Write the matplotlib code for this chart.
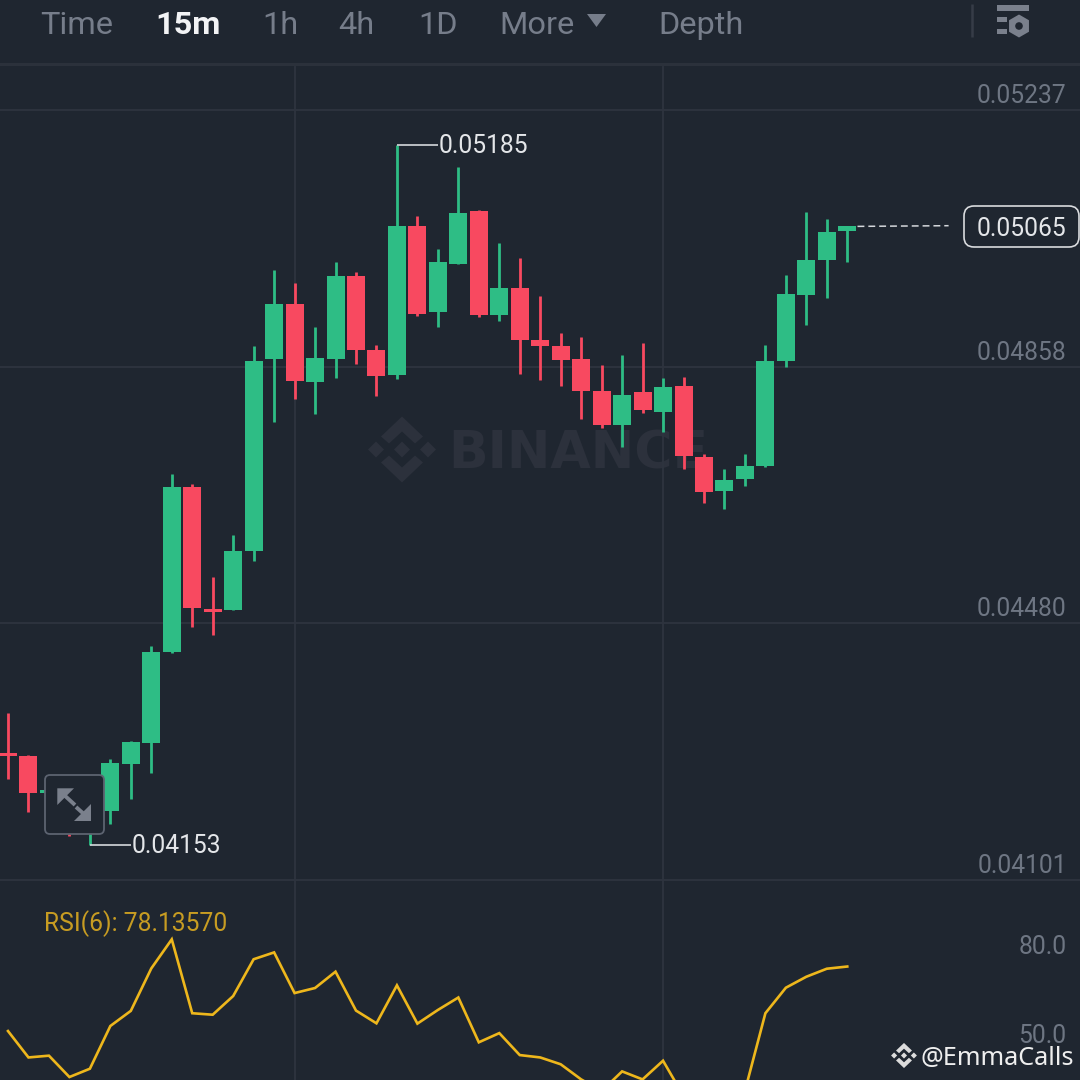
import matplotlib
matplotlib.use("Agg")
import matplotlib.pyplot as plt
from matplotlib.patches import FancyBboxPatch, Polygon, RegularPolygon, Circle

# candles, oldest first
open_p = [0.04288, 0.04284, 0.04230, 0.04226, 0.04178, 0.04203, 0.04272, 0.04303, 0.04437, 0.04681,
          0.04501, 0.04499, 0.04586, 0.04869, 0.04951, 0.04836, 0.04870, 0.04992, 0.04883, 0.04846,
          0.05066, 0.04939, 0.05010, 0.05087, 0.04935, 0.04974, 0.04897, 0.04889, 0.04869, 0.04822,
          0.04772, 0.04820, 0.04791, 0.04829, 0.04725, 0.04675, 0.04692, 0.04712, 0.04866, 0.04964,
          0.05016, 0.05058]
close_p = [0.04284, 0.04230, 0.04234, 0.04178, 0.04203, 0.04274, 0.04305, 0.04437, 0.04681, 0.04502,
           0.04496, 0.04586, 0.04867, 0.04950, 0.04837, 0.04871, 0.04992, 0.04883, 0.04845, 0.05066,
           0.04936, 0.05012, 0.05084, 0.04935, 0.04974, 0.04898, 0.04889, 0.04868, 0.04822, 0.04772,
           0.04817, 0.04794, 0.04828, 0.04726, 0.04673, 0.04691, 0.04712, 0.04866, 0.04965, 0.05016,
           0.05056, 0.05065]
high_p = [0.04348, 0.04285, 0.04240, 0.04232, 0.04210, 0.04279, 0.04306, 0.04446, 0.04700, 0.04685,
          0.04548, 0.04610, 0.04888, 0.05000, 0.04982, 0.04916, 0.05013, 0.04997, 0.04890, 0.05185,
          0.05080, 0.05032, 0.05152, 0.05089, 0.05040, 0.05018, 0.04962, 0.04908, 0.04902, 0.04861,
          0.04876, 0.04893, 0.04842, 0.04843, 0.04729, 0.04707, 0.04730, 0.04890, 0.04994, 0.05086,
          0.05076, 0.05065]
low_p = [0.04250, 0.04202, 0.04225, 0.04166, 0.04153, 0.04184, 0.04220, 0.04259, 0.04436, 0.04474,
         0.04462, 0.04499, 0.04572, 0.04776, 0.04811, 0.04789, 0.04841, 0.04862, 0.04815, 0.04840,
         0.04933, 0.04917, 0.05010, 0.04931, 0.04925, 0.04847, 0.04839, 0.04829, 0.04781, 0.04767,
         0.04740, 0.04790, 0.04761, 0.04707, 0.04657, 0.04648, 0.04682, 0.04710, 0.04858, 0.04920,
         0.04959, 0.05013]
rsi = [56.4, 47.5, 48.1, 40.9, 43.7, 58.1, 63.2, 77.5, 87.3, 62.4,
       61.9, 68.2, 80.6, 82.9, 69.2, 70.9, 76.4, 63.3, 59.0, 71.8,
       58.9, 63.5, 67.7, 52.6, 55.7, 48.3, 47.5, 45.2, 40.1, 36.2,
       42.8, 40.1, 46.4, 34.5, 31.5, 33.2, 36.2, 62.4, 71.0, 74.7,
       77.4, 78.14]

price_ticks = [0.05237, 0.04858, 0.04480, 0.04101]
rsi_ticks = [80.0, 50.0]
grid_candles = [14, 32]
high_idx = 19
low_idx = 4
last_price = 0.05065
header_labels = ["Time", "15m", "1h", "4h", "1D", "More", "Depth"]
header_x = [40, 155, 262, 338, 418, 499, 658]

BG = "#1f2630"
GRID = "#2e343f"
GREEN = "#2ebd85"
RED = "#f84960"
YELLOW = "#eeb71c"
GREY = "#6e7683"
WM = "#2c313c"

plt.rcParams["font.family"] = ["Roboto", "DejaVu Sans"]
fig = plt.figure(figsize=(10.8, 10.8), dpi=100, facecolor=BG)


def px_axes(x0, y0, x1, y1, z):
    # axes placed by pixels, y measured from the top
    a = fig.add_axes([x0 / 1080, 1 - y1 / 1080, (x1 - x0) / 1080, (y1 - y0) / 1080], zorder=z)
    a.axis("off")
    a.patch.set_alpha(0)
    return a


def logo(a, cx, cy, s, color):
    # binance diamond mark
    diamonds = [(0, 0), (-26, 0), (26, 0)]
    for dx, dy in diamonds:
        a.add_patch(Polygon([(cx + (dx - 8) * s, cy), (cx + dx * s, cy - 8 * s),
                             (cx + (dx + 8) * s, cy), (cx + dx * s, cy + 8 * s)],
                            color=color, lw=0))
    for d in [1, -1]:
        pts = [(0, -33), (21, -13), (13, -6), (0, -18), (-13, -6), (-21, -13)]
        a.add_patch(Polygon([(cx + p * s, cy + d * q * s) for p, q in pts], color=color, lw=0))


# background layer, watermark sits under everything
bg = px_axes(0, 0, 1080, 1080, 0)
bg.set_xlim(0, 1080)
bg.set_ylim(1080, 0)
logo(bg, 402, 449.5, 1, WM)
bg.text(448, 468.5, "BINANCE", color=WM, fontsize=37.5, fontweight="bold", va="baseline", ha="left",
        family="DejaVu Sans")

# price panel
xlim = (-8 / 20.47, (1080 - 8) / 20.47)
ax = px_axes(0, 65, 1080, 880, 1)
ax.set_xlim(xlim)
ax.set_ylim(0.04101, 0.05303)
for p in price_ticks:
    ax.axhline(p, color=GRID, lw=1.3, zorder=1, clip_on=False)
    ax.annotate(f"{p:.5f}", xy=(1, p), xycoords=ax.get_yaxis_transform(), xytext=(-9.6, 10.1),
                textcoords="offset points", ha="right", va="center", color=GREY, fontsize=17.7)
for i in grid_candles:
    ax.axvline(i, color=GRID, lw=1.3, zorder=1)

xs = list(range(len(open_p)))
colors = [GREEN if c >= o else RED for o, c in zip(open_p, close_p)]
ax.vlines(xs, low_p, high_p, colors=colors, lw=2.0, zorder=2, capstyle="butt")
ax.bar(xs, [abs(c - o) for o, c in zip(open_p, close_p)], bottom=[min(o, c) for o, c in zip(open_p, close_p)],
       width=0.88, color=colors, lw=0, zorder=3)

# high / low callouts
ax.plot([high_idx, high_idx + 2], [high_p[high_idx]] * 2, color="#d5d8dc", lw=1.2, zorder=4, solid_capstyle="butt")
ax.annotate(f"{high_p[high_idx]:.5f}", xy=(high_idx + 2, high_p[high_idx]), xytext=(0.5, -0.6),
            textcoords="offset points", color="#e4e6e9", fontsize=17.7, va="center", ha="left", zorder=4)
ax.plot([low_idx, low_idx + 2], [low_p[low_idx]] * 2, color="#d5d8dc", lw=1.2, zorder=4, solid_capstyle="butt")
ax.annotate(f"{low_p[low_idx]:.5f}", xy=(low_idx + 2, low_p[low_idx]), xytext=(0.5, -0.6),
            textcoords="offset points", color="#e4e6e9", fontsize=17.7, va="center", ha="left", zorder=4)

# last price dashes
ax.plot([xs[-1] + 0.5, 45.95], [last_price, last_price + 0.00001], color="#d5d8dc", lw=1.1,
        dashes=(4.5, 2.6), zorder=4)

# rsi panel
rx = px_axes(0, 880, 1080, 1080, 1)
rx.set_xlim(xlim)
rx.set_ylim(39.9, 107.3)
for i in grid_candles:
    rx.axvline(i, color=GRID, lw=1.3, zorder=1)
rx.plot(xs, rsi, color=YELLOW, lw=1.9, zorder=3, solid_joinstyle="miter")
for t in rsi_ticks:
    rx.annotate(f"{t:.1f}", xy=(1, t), xycoords=rx.get_yaxis_transform(), xytext=(-9.6, 10.1),
                textcoords="offset points", ha="right", va="center", color=GREY, fontsize=17.7)
rx.text(44 / 1080, 0.783, f"RSI(6): {78.13570:.5f}", transform=rx.transAxes, color="#c79c22",
        fontsize=17.7, va="center", ha="left")

# top layer: header, button, price box
top = px_axes(0, 0, 1080, 1080, 5)
top.set_xlim(0, 1080)
top.set_ylim(1080, 0)
top.axhline(63.5, color="#2b313b", lw=2.2)
for lab, x in zip(header_labels, header_x):
    active = lab == "15m"
    top.text(x, 34, lab, color="#f2f3f5" if active else "#767d8a", fontsize=23.4, va="baseline", ha="left",
             fontweight="bold" if active else "normal")
top.add_patch(Polygon([(587, 14), (606, 14), (596.5, 27)], color="#767d8a", lw=0))
top.plot([972, 972], [4, 37], color="#363c47", lw=1.8, solid_capstyle="butt")

# settings icon
ic = "#7a808c"
top.fill_between([997, 1029], 5, 10.5, color=ic, lw=0)
top.fill_between([997, 1007], 17, 22, color=ic, lw=0)
top.fill_between([997, 1007], 29, 34, color=ic, lw=0)
top.add_patch(RegularPolygon((1019, 26), 6, radius=11.5, color=ic, lw=0))
top.add_patch(Circle((1019, 26), 3.8, color=BG, lw=0))

# expand button covers the candles behind it
top.add_patch(FancyBboxPatch((48, 778), 53, 53, boxstyle="round,pad=3,rounding_size=5", fc=BG, ec="#5c6370", lw=1.3))
top.add_patch(Polygon([(57.3, 788.3), (57.3, 805), (74, 788.3)], color="#7a808c", lw=0))
top.add_patch(Polygon([(91, 804), (91, 821), (74, 821)], color="#7a808c", lw=0))
top.plot([63, 75], [794, 805], color="#7a808c", lw=2.8, solid_capstyle="butt")
top.plot([76, 85], [807, 815], color="#7a808c", lw=2.8, solid_capstyle="butt")

# last price box
top.add_patch(FancyBboxPatch((972, 214), 99, 25, boxstyle="round,pad=8,rounding_size=10", fc=BG, ec="#d9dbde", lw=1.2))
top.text(1022, 228.5, f"{last_price:.5f}", color="#e4e6e9", fontsize=17.7, va="center", ha="center")

# credit
logo(top, 904, 1055.5, 0.38, "#dcdcdc")
top.text(920.5, 1065, "@EmmaCalls", color="#eeeeee", fontsize=18.2, va="baseline", ha="left", family="Noto Sans")

fig.savefig("out.png", dpi=100, facecolor=BG)
